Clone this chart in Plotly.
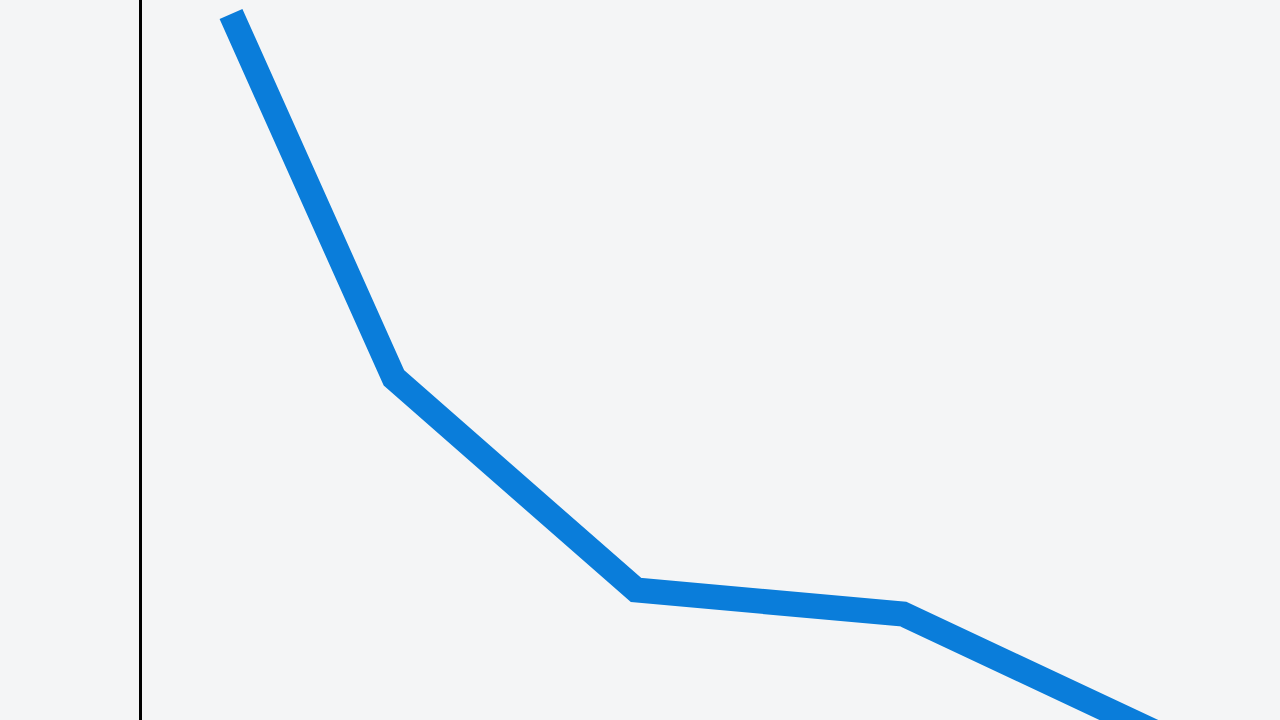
import plotly.graph_objects as go

# (axis units ~ 100 px each)
steps = [0.9, 2.53, 4.95, 7.62, 10.39]
level = [7.06, 3.42, 1.30, 1.06, -0.24]

fig = go.Figure()
fig.add_trace(go.Scatter(x=steps, y=level, mode='lines',
	line=dict(color='#0a7dda', width=25), showlegend=False, hoverinfo='skip'))

fig.update_layout(width=1280, height=720,
	margin=dict(l=142, r=0, t=0, b=0),
	paper_bgcolor='#f4f5f6', plot_bgcolor='#f4f5f6')
fig.update_xaxes(range=[0.01, 11.39], visible=False, showgrid=False, zeroline=False)
fig.update_yaxes(range=[0, 7.2], showgrid=False, zeroline=False,
	showticklabels=False, ticks='', showline=True, linecolor='black', linewidth=3)

# page body has a default margin, drop it so the chart fills the window
fig.write_html("out.html", config={'displayModeBar': False},
	post_script="document.body.style.margin='0';document.body.style.overflow='hidden';")
